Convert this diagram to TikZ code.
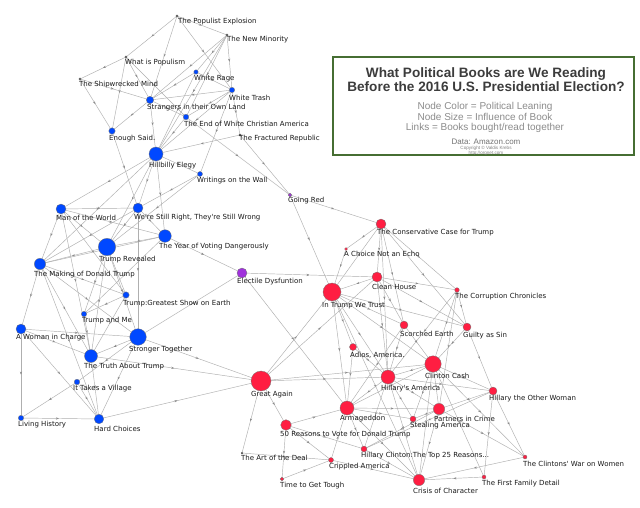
\documentclass[tikz,border=0pt]{standalone}
\usepackage{fontspec}
\newfontfamily\lab{DejaVu Sans}
\newfontfamily\ttl{Liberation Sans}
\usetikzlibrary{arrows.meta,decorations.markings,backgrounds}
\definecolor{bluen}{RGB}{0,72,255}
\definecolor{redn}{RGB}{255,30,66}
\definecolor{purn}{RGB}{160,50,220}
\definecolor{blkn}{RGB}{20,20,20}
\definecolor{edgec}{RGB}{175,175,175}
\definecolor{arrc}{RGB}{140,140,140}
\definecolor{labc}{RGB}{25,25,25}
\definecolor{boxg}{RGB}{70,110,50}
\definecolor{ttlc}{RGB}{60,60,60}
\definecolor{subc}{RGB}{140,140,140}
\tikzset{
  bnode/.style={circle, draw=black!55, line width=0.3pt, inner sep=0pt, outer sep=0pt},
  lbl/.style={font=\lab\fontsize{7}{8}\selectfont, inner sep=0pt, anchor=west, text=labc},
  lnk/.style={draw=edgec, line width=0.45pt, postaction={decorate},
    decoration={markings, mark=at position 0.5 with {\arrow[arrc]{Stealth[length=3pt,width=2.2pt]}}}},
}
\newcommand\bk[8]{%
  \node[bnode, fill=#5, minimum size={2pt*#4}] (#1) at (#2,#3) {};
  \node[lbl] (#1l) at (#6,#7) {#8};}
\begin{document}
\begin{tikzpicture}[x=1pt,y=-1pt]
\useasboundingbox (0,0) rectangle (640,508);
% top cluster
\bk{PE}{177}{16}{1.2}{blkn}{178}{22}{The Populist Explosion}
\bk{NM}{227}{35}{1.2}{blkn}{227}{40}{The New Minority}
\bk{WP}{126}{57}{1.2}{blkn}{125}{63}{What is Populism}
\bk{SM}{80}{79}{1.2}{blkn}{79}{85}{The Shipwrecked Mind}
\bk{WR}{196}{72}{2.2}{bluen}{194}{79}{White Rage}
\bk{WT}{232}{90}{2.7}{bluen}{229}{98}{White Trash}
\bk{SO}{150}{100}{3.7}{bluen}{147}{108}{Strangers in their Own Land}
\bk{EW}{186}{117}{2.8}{bluen}{184}{124}{The End of White Christian America}
\bk{ES}{112}{131}{3.2}{bluen}{109}{139}{Enough Said.}
\bk{FR}{240}{135}{1.2}{blkn}{239}{139}{The Fractured Republic}
\bk{HE}{156}{154}{7}{bluen}{149}{166}{Hillbilly Elegy}
\bk{WW}{200}{174}{2.5}{bluen}{197}{181}{Writings on the Wall}
\bk{GR}{290}{195}{1.9}{purn}{288}{201}{Going Red}
\bk{MW}{61}{209}{5}{bluen}{56}{218}{Man of the World}
\bk{SR}{138}{208}{5}{bluen}{134}{218}{We're Still Right, They're Still Wrong}
\bk{YV}{165}{236}{6.3}{bluen}{159}{247}{The Year of Voting Dangerously}
\bk{TR}{107}{247}{8.7}{bluen}{99}{260}{Trump Revealed}
\bk{MD}{40}{264}{5.7}{bluen}{34}{275}{The Making of Donald Trump}
\bk{ED}{242}{273}{5}{purn}{237}{282}{Electile Dysfuntion}
\bk{GS}{126}{295}{3.2}{bluen}{123}{304}{Trump:Greatest Show on Earth}
\bk{TM}{84}{314}{2.7}{bluen}{82}{321}{Trump and Me}
\bk{WC}{21}{329}{5}{bluen}{16}{338}{A Woman in Charge}
\bk{ST}{138}{337}{8.3}{bluen}{129}{350}{Stronger Together}
\bk{TT}{91}{356}{6.5}{bluen}{84}{367}{The Truth About Trump}
\bk{TV}{77}{382}{2.8}{bluen}{73}{389}{It Takes a Village}
\bk{LH}{21}{418}{2.7}{bluen}{18}{425}{Living History}
\bk{HC}{99}{419}{4.8}{bluen}{94}{429}{Hard Choices}
% red cluster
\bk{GA}{261}{381}{10}{redn}{251}{395}{Great Again}
\bk{FF50}{286}{425}{5.3}{redn}{280}{435}{50 Reasons to Vote for Donald Trump}
\bk{AD}{242}{453}{1}{blkn}{241}{458}{The Art of the Deal}
\bk{TG}{282}{479}{1.8}{redn}{280}{486}{Time to Get Tough}
\bk{CC}{381}{224}{5}{redn}{377}{233}{The Conservative Case for Trump}
\bk{CE}{346}{249}{1.5}{redn}{344}{254}{A Choice Not an Echo}
\bk{CH}{377}{277}{5}{redn}{372}{287}{Clean House}
\bk{IT}{332}{292}{9}{redn}{322}{306}{In Trump We Trust}
\bk{CRC}{457}{290}{2.3}{redn}{455}{297}{The Corruption Chronicles}
\bk{SE}{404}{325}{4}{redn}{400}{334}{Scorched Earth}
\bk{GSn}{467}{327}{4}{redn}{463}{336}{Guilty as Sin}
\bk{AA}{353}{347}{3.5}{redn}{350}{355}{Adios, America.}
\bk{CL}{433}{364}{8.2}{redn}{425}{376}{Clinton Cash}
\bk{HA}{388}{377}{7}{redn}{381}{389}{Hillary's America}
\bk{HO}{493}{391}{4}{redn}{489}{399}{Hillary the Other Woman}
\bk{AR}{347}{408}{7}{redn}{340}{419}{Armageddon}
\bk{PC}{439}{409}{5.7}{redn}{434}{419}{Partners in Crime}
\bk{SA}{413}{419}{3}{redn}{410}{426}{Stealing America}
\bk{TF}{364}{449}{3}{redn}{361}{456}{Hillary Clinton:The Top 25 Reasons...}
\bk{CA}{331}{460}{2.5}{redn}{329}{467}{Crippled America}
\bk{CW}{525}{457}{2}{redn}{523}{464}{The Clintons' War on Women}
\bk{FD}{484}{477}{2}{redn}{482}{484}{The First Family Detail}
\bk{CR}{419}{480}{5.7}{redn}{413}{491}{Crisis of Character}
% title box
\node[draw=boxg, line width=1.5pt, minimum width=301pt, minimum height=98pt, inner sep=0pt] (box) at (483.5,106) {};
\node[font=\ttl\bfseries\fontsize{13.6}{15}\selectfont, text=ttlc, align=center, inner sep=0pt] (title) at (486,79.5) {What Political Books are We Reading\\[-0.5pt]Before the 2016 U.S. Presidential Election?};
\node[font=\ttl\fontsize{10}{10.8}\selectfont, text=subc, align=center, inner sep=0pt] (sub) at (485,117.5) {Node Color = Political Leaning\\Node Size = Influence of Book\\Links = Books bought/read together};
\node[font=\ttl\fontsize{8}{9}\selectfont, text=black!55, inner sep=0pt] (data) at (486,142) {Data: Amazon.com};
\node[font=\ttl\fontsize{4.6}{4.8}\selectfont, text=black!50, align=center, inner sep=0pt] (copy) at (486,151) {Copyright \textcopyright{} Valdis Krebs\\http://orgnet.com};
% edges
\begin{scope}[on background layer]
\fill[white] (0,0) rectangle (640,508);
\foreach \a/\b in {PE/NM,PE/WP,PE/SO,PE/WT,WP/SM,WP/ES,WP/SO,WP/EW,SM/SO,SM/ES,
 NM/SO,NM/EW,NM/HE,NM/WT,NM/WR,WR/WT,WR/SO,WR/HE,WT/SO,WT/EW,WT/HE,WT/FR,WT/WW,
 SO/ES,SO/HE,SO/EW,EW/HE,EW/GR,FR/HE,FR/GR,ES/SR,
 HE/SR,HE/TR,HE/MW,HE/MD,HE/WW,HE/YV,WW/SR,WW/TR,GR/CC,GR/IT,
 MW/SR,MW/TR,MW/MD,MW/YV,MW/TT,MW/GS,SR/TR,SR/YV,SR/MD,SR/ST,
 YV/TR,YV/ED,YV/TM,YV/MD,TR/MD,TR/GS,TR/TT,TR/ST,TR/TM,
 MD/WC,MD/GS,MD/TT,MD/ST,MD/HC,ED/CH,ED/ST,ED/AR,GS/TM,GS/TT,TM/TT,
 WC/ST,WC/TT,WC/LH,WC/HC,ST/TT,ST/HC,ST/TV,ST/GA,TT/GA,TT/HC,TV/LH,TV/HC,LH/HC,HC/GA,
 GA/FF50,GA/AD,GA/IT,GA/HA,GA/CL,GA/CH,FF50/TG,FF50/AR,FF50/CA,FF50/TF,AD/CA,TG/CA,CA/AR,CA/CR,
 CC/CE,CC/IT,CC/CH,CC/SE,CC/GSn,CC/HA,CC/CRC,CE/IT,CH/IT,CH/CRC,CH/SE,CH/HA,CH/GSn,
 IT/SE,IT/GSn,IT/AA,IT/HA,IT/AR,IT/CL,IT/CR,CRC/GSn,CRC/HA,CRC/CL,CRC/PC,SE/HA,SE/AR,SE/CL,
 GSn/HO,GSn/CL,AA/HA,AA/AR,CL/HA,CL/HO,CL/AR,CL/PC,CL/SA,CL/CR,CL/FD,CL/CW,
 HA/AR,HA/HO,HA/PC,HA/SA,HA/CR,HA/TF,HO/PC,HO/CW,HO/FD,HO/TF,AR/PC,AR/SA,AR/TF,AR/CR,
 PC/SA,PC/TF,PC/CR,PC/CW,TF/CR,CW/CR,FD/CR}
  \draw[lnk] (\a) -- (\b);
\end{scope}
\end{tikzpicture}
\end{document}
